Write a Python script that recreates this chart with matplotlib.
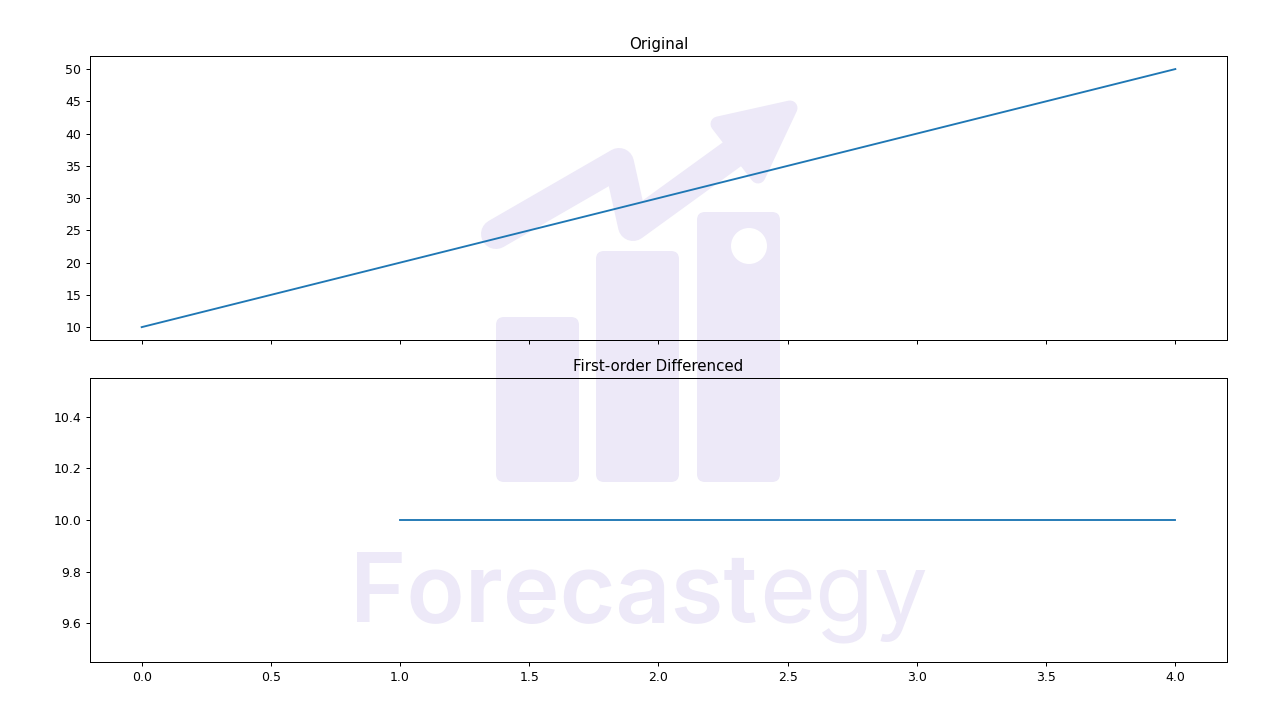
#!/usr/bin/env python3
"""Original series vs first-order differenced series, with Forecastegy watermark."""
import matplotlib
matplotlib.use("Agg")
import matplotlib.pyplot as plt
import numpy as np
import pandas as pd
from matplotlib.patches import FancyBboxPatch, Circle, Polygon

x_index = [0, 1, 2, 3, 4]
original_values = [10, 20, 30, 40, 50]

series = pd.Series(original_values, index=x_index)
differenced = series.diff()

WATERMARK = "#EDE9F8"
DPI = 90

fig, axes = plt.subplots(2, 1, sharex=True, figsize=(1280 / DPI, 720 / DPI), dpi=DPI)
fig.subplots_adjust(left=0.0703, right=0.9586, top=0.922, bottom=0.0806, hspace=0.134)

# watermark layer in pixel coordinates, behind the plots
wm = fig.add_axes([0, 0, 1, 1], zorder=-1)
wm.set_xlim(0, 1280)
wm.set_ylim(720, 0)
wm.axis("off")
for left, top in [(496, 317), (596, 251), (697, 212)]:
  wm.add_patch(FancyBboxPatch((left + 8, top + 8), 83 - 16, 482 - top - 16,
                              boxstyle="round,pad=8", fc=WATERMARK, ec="none"))
wm.add_patch(Circle((749, 246), 18, fc="white", ec="none"))
wm.plot([496, 619, 633, 742], [234, 163, 226, 147], color=WATERMARK, lw=24,
        solid_capstyle="round", solid_joinstyle="round")
wm.add_patch(Polygon([(718, 124), (790, 108), (758, 176)], closed=True,
                     fc=WATERMARK, ec=WATERMARK, lw=12, joinstyle="round"))
size_pt = 100 * 72 / DPI * 0.96
first = wm.text(350, 622, "Forecast", fontfamily="Inter", fontweight="semibold",
                fontsize=size_pt, color=WATERMARK, ha="left", va="baseline")
fig.canvas.draw()
bbox = first.get_window_extent()
wm.text(bbox.x1 + 2, 622, "egy", fontfamily="Inter", fontweight="normal",
        fontsize=size_pt, color=WATERMARK, ha="left", va="baseline")

for axis in axes:
  axis.set_facecolor("none")

axes[0].plot(series.index, series.values)
axes[0].set_title("Original")
axes[1].plot(differenced.index, differenced.values)
axes[1].set_title("First-order Differenced")

fig.savefig("out.png", dpi=DPI)
